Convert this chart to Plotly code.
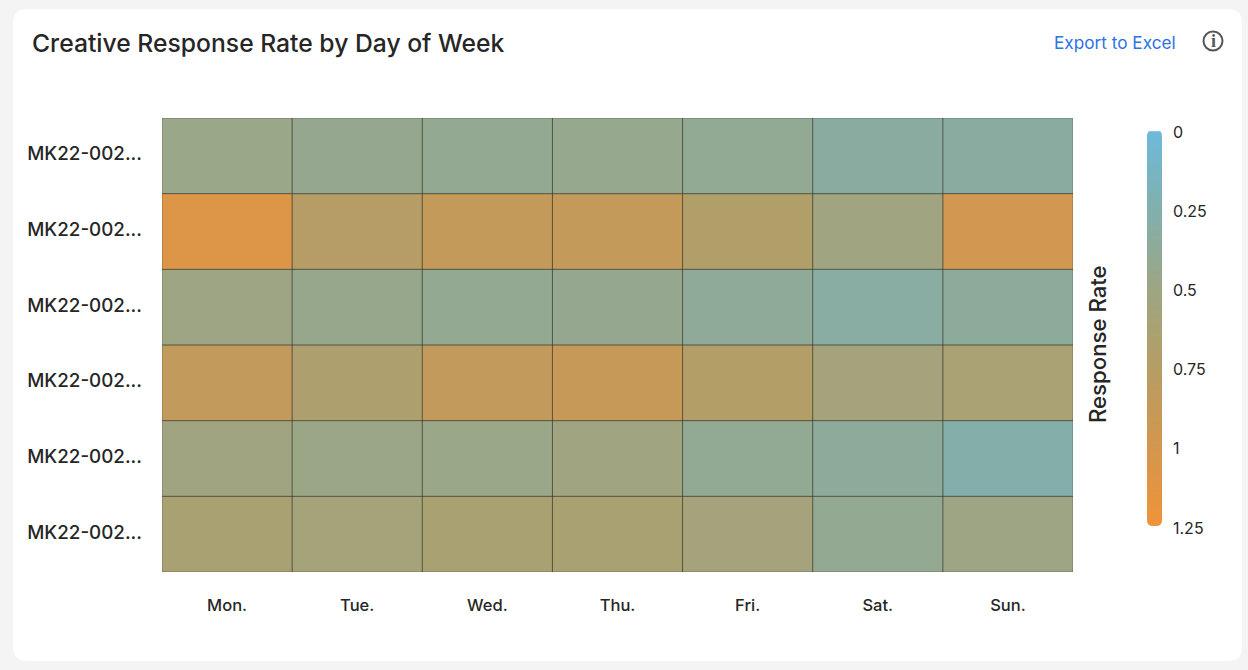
import numpy as np
import plotly.graph_objects as go

W, H = 1248, 670

DAYS = ["Mon.", "Tue.", "Wed.", "Thu.", "Fri.", "Sat.", "Sun."]
CREATIVES = ["MK22-002..."] * 6
ROW_1 = [0.46, 0.42, 0.41, 0.43, 0.39, 0.32, 0.32]
ROW_2 = [1.08, 0.74, 0.86, 0.86, 0.70, 0.52, 0.98]
ROW_3 = [0.49, 0.44, 0.41, 0.42, 0.37, 0.31, 0.35]
ROW_4 = [0.84, 0.67, 0.84, 0.88, 0.72, 0.56, 0.62]
ROW_5 = [0.52, 0.47, 0.46, 0.52, 0.39, 0.35, 0.27]
ROW_6 = [0.63, 0.57, 0.63, 0.63, 0.56, 0.41, 0.49]
SCALE_TICKS = [0, 0.25, 0.5, 0.75, 1, 1.25]
SCALE_MAX = 1.25

COLORSCALE = [
    [0.0, "rgb(110,186,218)"],
    [0.2, "rgb(130,175,172)"],
    [0.4, "rgb(158,165,130)"],
    [0.6, "rgb(182,157,100)"],
    [0.8, "rgb(212,150,78)"],
    [1.0, "rgb(240,147,56)"],
]

FONT = "Inter, sans-serif"
INK = "#262626"


def px(x):
    return x / W


def py(y):
    return 1 - y / H


def rounded_rect(x0, y0, x1, y1, r):
    # Rounded rectangle path in paper coordinates, given pixel corners.
    pts = [
        f"M{px(x0 + r)},{py(y0)}", f"L{px(x1 - r)},{py(y0)}",
        f"Q{px(x1)},{py(y0)} {px(x1)},{py(y0 + r)}", f"L{px(x1)},{py(y1 - r)}",
        f"Q{px(x1)},{py(y1)} {px(x1 - r)},{py(y1)}", f"L{px(x0 + r)},{py(y1)}",
        f"Q{px(x0)},{py(y1)} {px(x0)},{py(y1 - r)}", f"L{px(x0)},{py(y0 + r)}",
        f"Q{px(x0)},{py(y0)} {px(x0 + r)},{py(y0)}", "Z",
    ]
    return "".join(pts)


def corner_mask(cx, cy, sx, sy, r):
    # White sliver that rounds one corner of the colour ramp.
    return (
        f"M{px(cx)},{py(cy)}L{px(cx + sx * r)},{py(cy)}"
        f"Q{px(cx)},{py(cy)} {px(cx)},{py(cy + sy * r)}Z"
    )


z = [ROW_1, ROW_2, ROW_3, ROW_4, ROW_5, ROW_6]
ramp_values = np.linspace(0, SCALE_MAX, 251)

fig = go.Figure()
fig.add_trace(go.Heatmap(
    z=z, x=list(range(7)), y=list(range(6)),
    zmin=0, zmax=SCALE_MAX, colorscale=COLORSCALE, showscale=False,
    xaxis="x", yaxis="y",
))
# Vertical colour ramp used as the scale legend, 0 at the top.
fig.add_trace(go.Heatmap(
    z=[[v] for v in ramp_values], x=[0], y=ramp_values,
    zmin=0, zmax=SCALE_MAX, colorscale=COLORSCALE, showscale=False,
    xaxis="x2", yaxis="y2", hoverinfo="skip",
))

GRID = "rgba(45,45,35,0.68)"
shapes = [dict(type="path", path=rounded_rect(13, 9, 1242, 661, 14), xref="paper", yref="paper",
               fillcolor="#ffffff", line_width=0, layer="below")]
for i in range(1, 7):
    shapes.append(dict(type="line", xref="x", yref="y", x0=i - 0.5, x1=i - 0.5, y0=-0.5, y1=5.5,
                       line=dict(color=GRID, width=1)))
for j in range(1, 6):
    shapes.append(dict(type="line", xref="x", yref="y", x0=-0.5, x1=6.5, y0=j - 0.5, y1=j - 0.5,
                       line=dict(color=GRID, width=1)))
shapes.append(dict(type="rect", xref="x", yref="y", x0=-0.5, x1=6.5, y0=-0.5, y1=5.5,
                   line=dict(color="rgba(60,60,50,0.42)", width=1)))

# Rounded ends of the colour ramp.
RX0, RX1, RY0, RY1 = 1147, 1162, 130, 526
for cx, sx in ((RX0, 1), (RX1, -1)):
    shapes.append(dict(type="path", xref="paper", yref="paper", line_width=0, fillcolor="#ffffff",
                       path=corner_mask(cx, RY0, sx, 1, 6)))
    shapes.append(dict(type="path", xref="paper", yref="paper", line_width=0, fillcolor="#ffffff",
                       path=corner_mask(cx, RY1, sx, -1, 6)))
shapes.append(dict(type="rect", xref="paper", yref="paper", line_width=0, fillcolor="#ffffff",
                   x0=px(RX0 - 1), x1=px(RX1 + 1), y0=py(529), y1=py(RY1)))

# Info icon ring.
shapes.append(dict(type="circle", xref="paper", yref="paper",
                   x0=px(1203.5), x1=px(1222.5), y0=py(50.5), y1=py(31.5),
                   line=dict(color="#565656", width=2)))

annotations = [
    dict(text="Creative Response Rate by Day of Week", xref="paper", yref="paper",
         x=px(30), y=py(43), xanchor="left", yanchor="middle", showarrow=False,
         font=dict(family=FONT, size=24.7, color=INK, weight=500)),
    dict(text="Export to Excel", xref="paper", yref="paper",
         x=px(1052), y=py(43), xanchor="left", yanchor="middle", showarrow=False,
         font=dict(family=FONT, size=17.2, color="#2B73E6")),
    dict(text="<b>i</b>", xref="paper", yref="paper",
         x=px(1213), y=py(41), xanchor="center", yanchor="middle", showarrow=False,
         font=dict(family="Liberation Serif, serif", size=18, color="#565656")),
    dict(text="Response Rate", xref="paper", yref="paper",
         x=px(1097), y=py(344), xanchor="center", yanchor="middle", showarrow=False, textangle=-90,
         font=dict(family=FONT, size=22.2, color=INK, weight=500)),
]

fig.update_layout(
    width=W, height=H, autosize=False,
    margin=dict(l=0, r=0, t=0, b=0, pad=0, autoexpand=False),
    paper_bgcolor="#f4f4f4", plot_bgcolor="rgba(0,0,0,0)",
    font=dict(family=FONT, color=INK),
    shapes=shapes, annotations=annotations,
    xaxis=dict(domain=[px(162), px(1073)], range=[-0.5, 6.5], tickvals=list(range(7)), ticktext=DAYS,
               showgrid=False, zeroline=False, showline=False, ticks="", side="bottom", automargin=False,
               ticklabelstandoff=21, tickfont=dict(family=FONT, size=16.5, color=INK, weight=500),
               anchor="y", fixedrange=True),
    yaxis=dict(domain=[py(572), py(118)], range=[5.5, -0.5], tickvals=list(range(6)), ticktext=CREATIVES,
               showgrid=False, zeroline=False, showline=False, ticks="", automargin=False,
               ticklabelstandoff=19, ticklabelshift=2,
               tickfont=dict(family=FONT, size=18.8, color=INK, weight=500),
               anchor="x", fixedrange=True),
    xaxis2=dict(domain=[px(RX0), px(RX1)], range=[-0.5, 0.5], visible=False, anchor="y2", fixedrange=True),
    yaxis2=dict(domain=[py(528), py(130)], range=[SCALE_MAX, -0.0063], tickvals=SCALE_TICKS,
                ticktext=["0", "0.25", "0.5", "0.75", "1", "1.25"], side="right", automargin=False,
                showgrid=False, zeroline=False, showline=False, ticks="", ticklabelstandoff=10,
                tickfont=dict(family=FONT, size=16, color=INK), anchor="x2", fixedrange=True),
)

fig.write_html("out.html", config=dict(displayModeBar=False))
